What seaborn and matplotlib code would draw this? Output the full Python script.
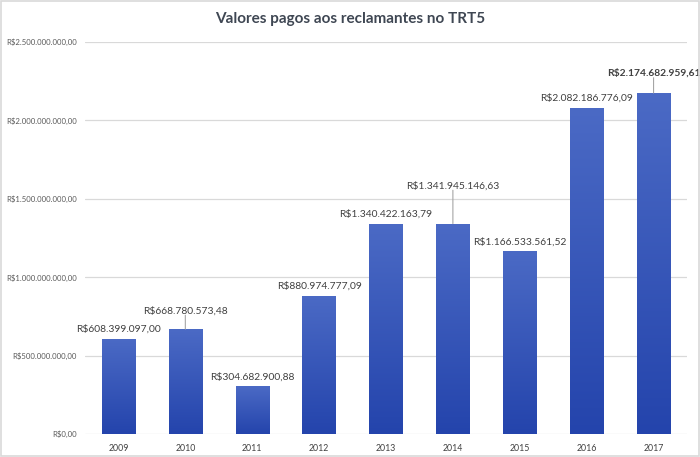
import numpy as np
import pandas as pd
import matplotlib
matplotlib.use("Agg")
import matplotlib.pyplot as plt
import matplotlib.ticker as mticker
from matplotlib.colors import LinearSegmentedColormap
from matplotlib.patches import Rectangle
import seaborn as sns

anos = ["2009", "2010", "2011", "2012", "2013", "2014", "2015", "2016", "2017"]
valores = [608399097.00, 668780573.48, 304682900.88, 880974777.09, 1340422163.79,
           1341945146.63, 1166533561.52, 2082186776.09, 2174682959.61]

# deslocamento vertical dos rótulos (em pontos) e quais têm linha de chamada
LABEL_OFFSET = {"2010": 10, "2014": 24, "2017": 11}
DEFAULT_OFFSET = 3.5

sns.set_style("white")
plt.rcParams['font.family'] = ['Lato', 'DejaVu Sans']


def brl(x):
    s = f"{x:,.2f}"
    s = s.replace(",", "X").replace(".", ",").replace("X", ".")
    return "R$" + s


df = pd.DataFrame({"ano": anos, "valor": valores})

fig = plt.figure(figsize=(7.0, 4.57), dpi=100)
fig.patches.append(Rectangle((0.002, 0.002), 0.996, 0.996, transform=fig.transFigure,
                             fill=False, edgecolor="#d9d9d9", linewidth=1.2))
ax = fig.add_axes([85 / 700, 1 - 434 / 457, (687 - 85) / 700, (434 - 42) / 457])

sns.barplot(data=df, x="ano", y="valor", color="#3a58b8", width=0.5, ax=ax,
            saturation=1, zorder=3)

ax.set_ylim(0, 2_500_000_000)
ax.yaxis.set_major_locator(mticker.MultipleLocator(500_000_000))
ax.yaxis.set_major_formatter(mticker.FuncFormatter(lambda v, p: brl(v)))
ax.grid(axis="y", color="#d9d9d9", linewidth=0.9, zorder=0)
for s in ax.spines.values():
    s.set_visible(False)
ax.set_xlabel("")
ax.set_ylabel("")
ax.tick_params(axis="y", labelsize=5.6, labelcolor="#595959", length=0, pad=6)
ax.tick_params(axis="x", labelsize=6.3, labelcolor="#404040", length=0, pad=7)

# gradiente em cada barra
cmap = LinearSegmentedColormap.from_list("grad", ["#2444ac", "#4b6ac5"])
grad = np.linspace(0, 1, 256).reshape(-1, 1)
for bar in list(ax.patches):
    x0, y0 = bar.get_x(), bar.get_y()
    w, h = bar.get_width(), bar.get_height()
    bar.set_facecolor("none")
    bar.set_edgecolor("none")
    im = ax.imshow(grad, cmap=cmap, aspect="auto", origin="lower",
                   extent=[x0, x0 + w, y0, y0 + h], zorder=3)
    im.set_clip_path(bar)
ax.set_xlim(-0.5, len(anos) - 0.5)
ax.set_ylim(0, 2_500_000_000)

for i, (ano, v) in enumerate(zip(anos, valores)):
    off = LABEL_OFFSET.get(ano, DEFAULT_OFFSET)
    bold = ano == "2017"
    ax.annotate(brl(v), xy=(i, v), xytext=(0, off), textcoords="offset points",
                ha="center", va="bottom", fontsize=7.4, color="#404040",
                fontweight="bold" if bold else "normal", zorder=5)
    if ano in LABEL_OFFSET:
        ax.annotate("", xy=(i, v), xytext=(0, off), textcoords="offset points",
                    arrowprops=dict(arrowstyle="-", color="#a6a6a6", lw=0.8,
                                    shrinkA=0, shrinkB=0), zorder=4)

fig.text(0.5, 1 - 19 / 457, "Valores pagos aos reclamantes no TRT5", ha="center",
         va="center", fontsize=11, fontweight="bold", color="#3f4753")

fig.savefig("out.png", dpi=100)
